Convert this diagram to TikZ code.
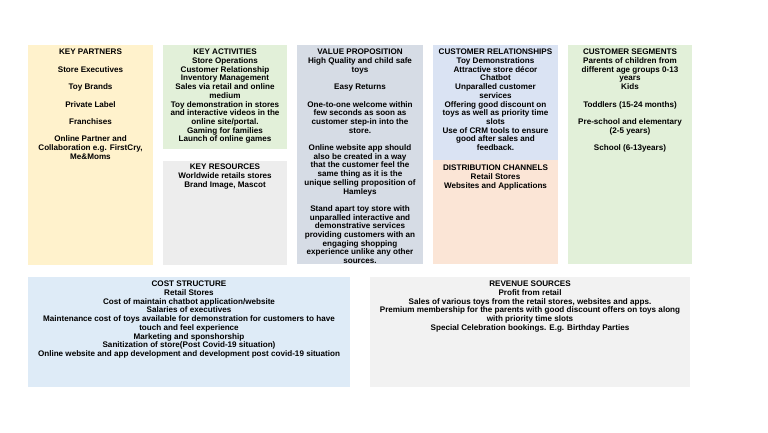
\documentclass[tikz,border=0pt]{standalone}
\usepackage{fontspec}
\setmainfont{Liberation Sans}
\definecolor{kpcol}{HTML}{FFF2CC}
\definecolor{kacol}{HTML}{E2F0D9}
\definecolor{krcol}{HTML}{EDEDED}
\definecolor{vpcol}{HTML}{D6DCE5}
\definecolor{crcol}{HTML}{DAE3F3}
\definecolor{dccol}{HTML}{FBE5D6}
\definecolor{cscol}{HTML}{E2F0D9}
\definecolor{cocol}{HTML}{DEEBF7}
\definecolor{rvcol}{HTML}{F2F2F2}
\tikzset{
  box/.style={draw=none, rectangle, inner sep=0pt, outer sep=0pt, anchor=north west},
  txt/.style={anchor=north, align=center, inner sep=0pt, text=black,
    font=\bfseries\fontsize{8.1}{8.7}\selectfont},
}
\begin{document}
\begin{tikzpicture}[x=1pt,y=-1pt]
\useasboundingbox[fill=white] (0,0) rectangle (768,433);
% boxes
\node[box, fill=kpcol, minimum width=125pt, minimum height=220pt] (kp) at (28,45) {};
\node[box, fill=kacol, minimum width=124pt, minimum height=104pt] (ka) at (163,45) {};
\node[box, fill=krcol, minimum width=124pt, minimum height=104pt] (kr) at (163,161) {};
\node[box, fill=vpcol, minimum width=126pt, minimum height=219pt] (vp) at (297,45) {};
\node[box, fill=crcol, minimum width=125pt, minimum height=115pt] (cr) at (433,45) {};
\node[box, fill=dccol, minimum width=125pt, minimum height=104pt] (dc) at (433,160) {};
\node[box, fill=cscol, minimum width=124pt, minimum height=219pt] (cs) at (568,45) {};
\node[box, fill=cocol, minimum width=322pt, minimum height=110pt] (co) at (28,277) {};
\node[box, fill=rvcol, minimum width=320pt, minimum height=110pt] (rv) at (370,277) {};
% texts
\node[txt] (kpt) at ([yshift=-4pt]kp.north) {KEY PARTNERS\\[8.7pt]Store Executives\\[8.7pt]Toy Brands\\[8.7pt]Private Label\\[8.7pt]Franchises\\[8.7pt]Online Partner and\\Collaboration e.g. FirstCry,\\Me\&Moms};
\node[txt] (kat) at ([yshift=-4pt]ka.north) {KEY ACTIVITIES\\Store Operations\\Customer Relationship\\Inventory Management\\Sales via retail and online\\medium\\Toy demonstration in stores\\and interactive videos in the\\online site/portal.\\Gaming for families\\Launch of online games};
\node[txt] (krt) at ([yshift=-3pt]kr.north) {KEY RESOURCES\\Worldwide retails stores\\Brand Image, Mascot};
\node[txt] (vpt) at ([yshift=-4pt]vp.north) {VALUE PROPOSITION\\High Quality and child safe\\toys\\[8.7pt]Easy Returns\\[8.7pt]One-to-one welcome within\\few seconds as soon as\\customer step-in into the\\store.\\[8.7pt]Online website app should\\also be created in a way\\that the customer feel the\\same thing as it is the\\unique selling proposition of\\Hamleys\\[8.7pt]Stand apart toy store with\\unparalled interactive and\\demonstrative services\\providing customers with an\\engaging shopping\\experience unlike any other\\sources.};
\node[txt] (crt) at ([yshift=-4pt]cr.north) {CUSTOMER RELATIONSHIPS\\Toy Demonstrations\\Attractive store décor\\Chatbot\\Unparalled customer\\services\\Offering good discount on\\toys as well as priority time\\slots\\Use of CRM tools to ensure\\good after sales and\\feedback.};
\node[txt] (dct) at ([yshift=-5pt]dc.north) {DISTRIBUTION CHANNELS\\Retail Stores\\Websites and Applications};
\node[txt] (cst) at ([yshift=-4pt]cs.north) {CUSTOMER SEGMENTS\\Parents of children from\\different age groups 0-13\\years\\Kids\\[8.7pt]Toddlers (15-24 months)\\[8.7pt]Pre-school and elementary\\(2-5 years)\\[8.7pt]School (6-13years)};
\node[txt] (cot) at ([yshift=-4pt]co.north) {COST STRUCTURE\\Retail Stores\\Cost of maintain chatbot application/website\\Salaries of executives\\Maintenance cost of toys available for demonstration for customers to have\\touch and feel experience\\Marketing and sponshorship\\Sanitization of store(Post Covid-19 situation)\\Online website and app development and development post covid-19 situation};
\node[txt] (rvt) at ([yshift=-4pt]rv.north) {REVENUE SOURCES\\Profit from retail\\Sales of various toys from the retail stores, websites and apps.\\Premium membership for the parents with good discount offers on toys along\\with priority time slots\\Special Celebration bookings. E.g. Birthday Parties};
\end{tikzpicture}
\end{document}
